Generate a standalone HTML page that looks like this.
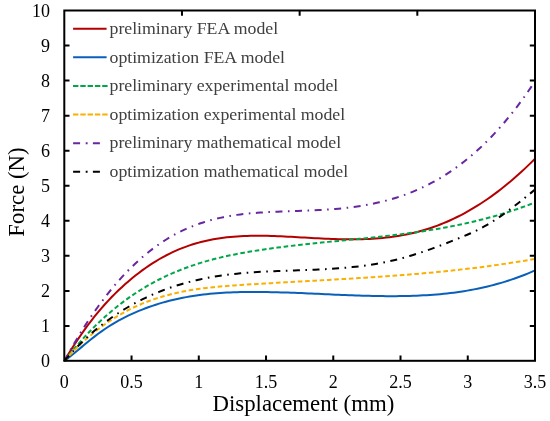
<!DOCTYPE html>
<html><head><meta charset="utf-8"><style>
html,body{margin:0;padding:0;background:#fff;}
svg{display:block;}
</style></head><body>
<svg width="550" height="421" viewBox="0 0 550 421" font-family='"Liberation Serif","Times New Roman",serif' font-size="18" fill="#000">
<rect width="550" height="421" fill="#fff"/>
<path d="M64.30,361.00 L67.69,355.34 L71.07,349.86 L74.46,344.54 L77.85,339.40 L81.23,334.44 L84.62,329.63 L88.00,325.00 L91.39,320.53 L94.78,316.23 L98.16,312.09 L101.55,308.10 L104.94,304.27 L108.32,300.58 L111.71,297.03 L115.09,293.61 L118.48,290.32 L121.87,287.15 L125.25,284.09 L128.64,281.14 L132.03,278.30 L135.41,275.56 L138.80,272.92 L142.19,270.39 L145.57,267.96 L148.96,265.63 L152.34,263.41 L155.73,261.28 L159.12,259.26 L162.50,257.34 L165.89,255.51 L169.28,253.79 L172.66,252.16 L176.05,250.62 L179.44,249.18 L182.82,247.83 L186.21,246.57 L189.59,245.39 L192.98,244.30 L196.37,243.28 L199.75,242.34 L203.14,241.48 L206.53,240.69 L209.91,239.97 L213.30,239.31 L216.68,238.72 L220.07,238.20 L223.46,237.73 L226.84,237.32 L230.23,236.96 L233.62,236.65 L237.00,236.40 L240.39,236.19 L243.78,236.02 L247.16,235.89 L250.55,235.81 L253.93,235.76 L257.32,235.74 L260.71,235.76 L264.09,235.80 L267.48,235.87 L270.87,235.96 L274.25,236.07 L277.64,236.20 L281.03,236.35 L284.41,236.51 L287.80,236.68 L291.18,236.85 L294.57,237.04 L297.96,237.23 L301.34,237.42 L304.73,237.61 L308.12,237.80 L311.50,237.99 L314.89,238.17 L318.27,238.34 L321.66,238.51 L325.05,238.67 L328.43,238.81 L331.82,238.94 L335.21,239.06 L338.59,239.15 L341.98,239.23 L345.37,239.29 L348.75,239.32 L352.14,239.32 L355.52,239.30 L358.91,239.25 L362.30,239.17 L365.68,239.06 L369.07,238.91 L372.46,238.73 L375.84,238.50 L379.23,238.24 L382.62,237.94 L386.00,237.59 L389.39,237.19 L392.77,236.75 L396.16,236.26 L399.55,235.71 L402.93,235.12 L406.32,234.47 L409.71,233.76 L413.09,232.99 L416.48,232.16 L419.86,231.27 L423.25,230.32 L426.64,229.30 L430.02,228.21 L433.41,227.05 L436.80,225.83 L440.18,224.53 L443.57,223.17 L446.96,221.74 L450.34,220.24 L453.73,218.66 L457.11,217.02 L460.50,215.31 L463.89,213.52 L467.27,211.66 L470.66,209.73 L474.05,207.73 L477.43,205.65 L480.82,203.50 L484.21,201.27 L487.59,198.97 L490.98,196.60 L494.36,194.15 L497.75,191.62 L501.14,189.02 L504.52,186.34 L507.91,183.58 L511.30,180.75 L514.68,177.84 L518.07,174.85 L521.45,171.78 L524.84,168.63 L528.23,165.40 L531.61,162.09 L535.00,158.70" fill="none" stroke="#B40000" stroke-width="2" stroke-linejoin="round"/>
<path d="M64.30,361.00 L67.69,358.41 L71.07,355.73 L74.46,352.98 L77.85,350.18 L81.23,347.36 L84.62,344.54 L88.00,341.75 L91.39,339.01 L94.78,336.34 L98.16,333.78 L101.55,331.32 L104.94,328.98 L108.32,326.75 L111.71,324.63 L115.09,322.61 L118.48,320.69 L121.87,318.86 L125.25,317.12 L128.64,315.46 L132.03,313.88 L135.41,312.37 L138.80,310.93 L142.19,309.56 L145.57,308.25 L148.96,307.00 L152.34,305.82 L155.73,304.70 L159.12,303.64 L162.50,302.64 L165.89,301.69 L169.28,300.80 L172.66,299.96 L176.05,299.17 L179.44,298.43 L182.82,297.75 L186.21,297.11 L189.59,296.51 L192.98,295.96 L196.37,295.45 L199.75,294.99 L203.14,294.56 L206.53,294.17 L209.91,293.82 L213.30,293.51 L216.68,293.23 L220.07,292.98 L223.46,292.76 L226.84,292.57 L230.23,292.41 L233.62,292.28 L237.00,292.17 L240.39,292.08 L243.78,292.02 L247.16,291.98 L250.55,291.95 L253.93,291.95 L257.32,291.95 L260.71,291.98 L264.09,292.02 L267.48,292.07 L270.87,292.13 L274.25,292.20 L277.64,292.29 L281.03,292.38 L284.41,292.48 L287.80,292.60 L291.18,292.72 L294.57,292.84 L297.96,292.98 L301.34,293.11 L304.73,293.26 L308.12,293.40 L311.50,293.55 L314.89,293.70 L318.27,293.86 L321.66,294.01 L325.05,294.17 L328.43,294.32 L331.82,294.48 L335.21,294.63 L338.59,294.77 L341.98,294.92 L345.37,295.06 L348.75,295.20 L352.14,295.32 L355.52,295.45 L358.91,295.56 L362.30,295.67 L365.68,295.77 L369.07,295.86 L372.46,295.94 L375.84,296.01 L379.23,296.07 L382.62,296.11 L386.00,296.14 L389.39,296.16 L392.77,296.16 L396.16,296.15 L399.55,296.12 L402.93,296.07 L406.32,296.01 L409.71,295.92 L413.09,295.82 L416.48,295.69 L419.86,295.55 L423.25,295.37 L426.64,295.18 L430.02,294.96 L433.41,294.72 L436.80,294.44 L440.18,294.14 L443.57,293.81 L446.96,293.45 L450.34,293.06 L453.73,292.64 L457.11,292.19 L460.50,291.70 L463.89,291.18 L467.27,290.62 L470.66,290.02 L474.05,289.39 L477.43,288.72 L480.82,288.00 L484.21,287.25 L487.59,286.46 L490.98,285.62 L494.36,284.74 L497.75,283.82 L501.14,282.85 L504.52,281.84 L507.91,280.77 L511.30,279.66 L514.68,278.50 L518.07,277.29 L521.45,276.03 L524.84,274.71 L528.23,273.34 L531.61,271.92 L535.00,270.45" fill="none" stroke="#0A60B8" stroke-width="2" stroke-linejoin="round"/>
<path d="M64.30,360.99 L67.69,356.68 L71.07,352.49 L74.46,348.42 L77.85,344.46 L81.23,340.63 L84.62,336.90 L88.00,333.29 L91.39,329.79 L94.78,326.40 L98.16,323.11 L101.55,319.93 L104.94,316.84 L108.32,313.86 L111.71,310.97 L115.09,308.18 L118.48,305.48 L121.87,302.87 L125.25,300.35 L128.64,297.91 L132.03,295.56 L135.41,293.29 L138.80,291.10 L142.19,288.98 L145.57,286.95 L148.96,284.98 L152.34,283.09 L155.73,281.27 L159.12,279.51 L162.50,277.82 L165.89,276.20 L169.28,274.64 L172.66,273.14 L176.05,271.70 L179.44,270.32 L182.82,269.00 L186.21,267.73 L189.59,266.51 L192.98,265.34 L196.37,264.22 L199.75,263.15 L203.14,262.12 L206.53,261.14 L209.91,260.20 L213.30,259.30 L216.68,258.44 L220.07,257.61 L223.46,256.82 L226.84,256.07 L230.23,255.34 L233.62,254.65 L237.00,253.98 L240.39,253.34 L243.78,252.73 L247.16,252.13 L250.55,251.56 L253.93,251.01 L257.32,250.47 L260.71,249.95 L264.09,249.45 L267.48,248.96 L270.87,248.48 L274.25,248.02 L277.64,247.57 L281.03,247.13 L284.41,246.70 L287.80,246.28 L291.18,245.88 L294.57,245.48 L297.96,245.09 L301.34,244.71 L304.73,244.33 L308.12,243.97 L311.50,243.61 L314.89,243.25 L318.27,242.90 L321.66,242.56 L325.05,242.22 L328.43,241.88 L331.82,241.54 L335.21,241.21 L338.59,240.88 L341.98,240.54 L345.37,240.21 L348.75,239.88 L352.14,239.55 L355.52,239.21 L358.91,238.87 L362.30,238.53 L365.68,238.19 L369.07,237.84 L372.46,237.48 L375.84,237.12 L379.23,236.76 L382.62,236.38 L386.00,236.00 L389.39,235.62 L392.77,235.22 L396.16,234.81 L399.55,234.40 L402.93,233.97 L406.32,233.53 L409.71,233.08 L413.09,232.62 L416.48,232.15 L419.86,231.66 L423.25,231.15 L426.64,230.64 L430.02,230.10 L433.41,229.55 L436.80,228.99 L440.18,228.40 L443.57,227.80 L446.96,227.18 L450.34,226.54 L453.73,225.88 L457.11,225.20 L460.50,224.50 L463.89,223.78 L467.27,223.03 L470.66,222.27 L474.05,221.47 L477.43,220.66 L480.82,219.82 L484.21,218.95 L487.59,218.06 L490.98,217.14 L494.36,216.19 L497.75,215.22 L501.14,214.22 L504.52,213.18 L507.91,212.12 L511.30,211.03 L514.68,209.91 L518.07,208.75 L521.45,207.56 L524.84,206.34 L528.23,205.09 L531.61,203.80 L535.00,202.48" fill="none" stroke="#00A648" stroke-width="2" stroke-dasharray="4.6 2.7" stroke-linejoin="round"/>
<path d="M64.30,360.99 L67.69,357.26 L71.07,353.66 L74.46,350.19 L77.85,346.84 L81.23,343.61 L84.62,340.51 L88.00,337.52 L91.39,334.64 L94.78,331.88 L98.16,329.23 L101.55,326.68 L104.94,324.25 L108.32,321.91 L111.71,319.67 L115.09,317.54 L118.48,315.49 L121.87,313.54 L125.25,311.69 L128.64,309.92 L132.03,308.23 L135.41,306.63 L138.80,305.11 L142.19,303.67 L145.57,302.30 L148.96,301.01 L152.34,299.79 L155.73,298.63 L159.12,297.55 L162.50,296.53 L165.89,295.56 L169.28,294.66 L172.66,293.82 L176.05,293.03 L179.44,292.29 L182.82,291.60 L186.21,290.95 L189.59,290.35 L192.98,289.79 L196.37,289.28 L199.75,288.80 L203.14,288.35 L206.53,287.93 L209.91,287.55 L213.30,287.19 L216.68,286.86 L220.07,286.55 L223.46,286.26 L226.84,285.99 L230.23,285.73 L233.62,285.49 L237.00,285.25 L240.39,285.02 L243.78,284.80 L247.16,284.59 L250.55,284.37 L253.93,284.16 L257.32,283.95 L260.71,283.74 L264.09,283.54 L267.48,283.34 L270.87,283.14 L274.25,282.94 L277.64,282.75 L281.03,282.55 L284.41,282.36 L287.80,282.17 L291.18,281.98 L294.57,281.79 L297.96,281.60 L301.34,281.41 L304.73,281.22 L308.12,281.03 L311.50,280.84 L314.89,280.65 L318.27,280.46 L321.66,280.27 L325.05,280.08 L328.43,279.89 L331.82,279.69 L335.21,279.50 L338.59,279.30 L341.98,279.10 L345.37,278.90 L348.75,278.70 L352.14,278.49 L355.52,278.29 L358.91,278.08 L362.30,277.86 L365.68,277.65 L369.07,277.43 L372.46,277.20 L375.84,276.98 L379.23,276.75 L382.62,276.51 L386.00,276.27 L389.39,276.03 L392.77,275.78 L396.16,275.53 L399.55,275.28 L402.93,275.01 L406.32,274.75 L409.71,274.47 L413.09,274.19 L416.48,273.91 L419.86,273.62 L423.25,273.32 L426.64,273.02 L430.02,272.71 L433.41,272.40 L436.80,272.07 L440.18,271.74 L443.57,271.40 L446.96,271.06 L450.34,270.71 L453.73,270.35 L457.11,269.98 L460.50,269.60 L463.89,269.22 L467.27,268.82 L470.66,268.42 L474.05,268.01 L477.43,267.59 L480.82,267.16 L484.21,266.72 L487.59,266.27 L490.98,265.81 L494.36,265.34 L497.75,264.87 L501.14,264.38 L504.52,263.88 L507.91,263.37 L511.30,262.84 L514.68,262.31 L518.07,261.77 L521.45,261.21 L524.84,260.64 L528.23,260.06 L531.61,259.47 L535.00,258.87" fill="none" stroke="#FAB000" stroke-width="2" stroke-dasharray="4.6 2.7" stroke-linejoin="round"/>
<path d="M64.30,361.00 L67.69,354.83 L71.07,348.82 L74.46,342.98 L77.85,337.29 L81.23,331.77 L84.62,326.40 L88.00,321.18 L91.39,316.13 L94.78,311.22 L98.16,306.46 L101.55,301.85 L104.94,297.39 L108.32,293.07 L111.71,288.89 L115.09,284.85 L118.48,280.95 L121.87,277.18 L125.25,273.55 L128.64,270.05 L132.03,266.68 L135.41,263.44 L138.80,260.33 L142.19,257.34 L145.57,254.47 L148.96,251.73 L152.34,249.10 L155.73,246.59 L159.12,244.19 L162.50,241.91 L165.89,239.74 L169.28,237.67 L172.66,235.72 L176.05,233.86 L179.44,232.11 L182.82,230.46 L186.21,228.90 L189.59,227.44 L192.98,226.06 L196.37,224.77 L199.75,223.56 L203.14,222.43 L206.53,221.38 L209.91,220.40 L213.30,219.50 L216.68,218.66 L220.07,217.88 L223.46,217.17 L226.84,216.52 L230.23,215.92 L233.62,215.38 L237.00,214.88 L240.39,214.43 L243.78,214.03 L247.16,213.66 L250.55,213.33 L253.93,213.04 L257.32,212.78 L260.71,212.55 L264.09,212.34 L267.48,212.15 L270.87,211.99 L274.25,211.84 L277.64,211.70 L281.03,211.57 L284.41,211.45 L287.80,211.34 L291.18,211.22 L294.57,211.11 L297.96,210.99 L301.34,210.87 L304.73,210.74 L308.12,210.60 L311.50,210.45 L314.89,210.29 L318.27,210.12 L321.66,209.92 L325.05,209.71 L328.43,209.49 L331.82,209.23 L335.21,208.96 L338.59,208.66 L341.98,208.33 L345.37,207.97 L348.75,207.58 L352.14,207.15 L355.52,206.69 L358.91,206.20 L362.30,205.66 L365.68,205.08 L369.07,204.46 L372.46,203.80 L375.84,203.09 L379.23,202.32 L382.62,201.51 L386.00,200.65 L389.39,199.73 L392.77,198.75 L396.16,197.72 L399.55,196.62 L402.93,195.46 L406.32,194.24 L409.71,192.95 L413.09,191.60 L416.48,190.17 L419.86,188.68 L423.25,187.10 L426.64,185.46 L430.02,183.73 L433.41,181.93 L436.80,180.04 L440.18,178.07 L443.57,176.02 L446.96,173.87 L450.34,171.64 L453.73,169.32 L457.11,166.90 L460.50,164.39 L463.89,161.79 L467.27,159.08 L470.66,156.27 L474.05,153.36 L477.43,150.35 L480.82,147.23 L484.21,144.00 L487.59,140.66 L490.98,137.21 L494.36,133.64 L497.75,129.96 L501.14,126.16 L504.52,122.24 L507.91,118.20 L511.30,114.04 L514.68,109.75 L518.07,105.33 L521.45,100.78 L524.84,96.10 L528.23,91.29 L531.61,86.34 L535.00,81.26" fill="none" stroke="#6826A0" stroke-width="2" stroke-dasharray="7 5.5 1.6 5.5" stroke-linejoin="round"/>
<path d="M64.30,361.00 L67.69,357.11 L71.07,353.36 L74.46,349.74 L77.85,346.24 L81.23,342.87 L84.62,339.62 L88.00,336.49 L91.39,333.47 L94.78,330.56 L98.16,327.76 L101.55,325.06 L104.94,322.46 L108.32,319.95 L111.71,317.54 L115.09,315.22 L118.48,312.98 L121.87,310.83 L125.25,308.76 L128.64,306.76 L132.03,304.83 L135.41,302.98 L138.80,301.19 L142.19,299.47 L145.57,297.82 L148.96,296.23 L152.34,294.70 L155.73,293.24 L159.12,291.85 L162.50,290.51 L165.89,289.23 L169.28,288.01 L172.66,286.85 L176.05,285.74 L179.44,284.69 L182.82,283.69 L186.21,282.75 L189.59,281.85 L192.98,281.00 L196.37,280.20 L199.75,279.45 L203.14,278.73 L206.53,278.07 L209.91,277.44 L213.30,276.85 L216.68,276.30 L220.07,275.78 L223.46,275.30 L226.84,274.85 L230.23,274.44 L233.62,274.05 L237.00,273.69 L240.39,273.36 L243.78,273.05 L247.16,272.77 L250.55,272.51 L253.93,272.27 L257.32,272.05 L260.71,271.84 L264.09,271.65 L267.48,271.48 L270.87,271.32 L274.25,271.16 L277.64,271.02 L281.03,270.89 L284.41,270.76 L287.80,270.64 L291.18,270.52 L294.57,270.40 L297.96,270.28 L301.34,270.16 L304.73,270.04 L308.12,269.91 L311.50,269.78 L314.89,269.64 L318.27,269.48 L321.66,269.32 L325.05,269.15 L328.43,268.96 L331.82,268.75 L335.21,268.53 L338.59,268.29 L341.98,268.03 L345.37,267.75 L348.75,267.44 L352.14,267.10 L355.52,266.74 L358.91,266.35 L362.30,265.93 L365.68,265.48 L369.07,265.00 L372.46,264.48 L375.84,263.92 L379.23,263.32 L382.62,262.69 L386.00,262.01 L389.39,261.29 L392.77,260.52 L396.16,259.71 L399.55,258.85 L402.93,257.95 L406.32,257.00 L409.71,256.01 L413.09,254.98 L416.48,253.92 L419.86,252.82 L423.25,251.69 L426.64,250.52 L430.02,249.33 L433.41,248.11 L436.80,246.86 L440.18,245.60 L443.57,244.31 L446.96,243.00 L450.34,241.67 L453.73,240.33 L457.11,238.97 L460.50,237.59 L463.89,236.19 L467.27,234.74 L470.66,233.24 L474.05,231.67 L477.43,230.03 L480.82,228.30 L484.21,226.48 L487.59,224.55 L490.98,222.52 L494.36,220.38 L497.75,218.16 L501.14,215.85 L504.52,213.47 L507.91,211.01 L511.30,208.48 L514.68,205.90 L518.07,203.27 L521.45,200.59 L524.84,197.88 L528.23,195.13 L531.61,192.36 L535.00,189.57" fill="none" stroke="#000000" stroke-width="2" stroke-dasharray="7 5.5 1.6 5.5" stroke-linejoin="round"/>
<rect x="64.3" y="10.5" width="470.70" height="350.30" fill="none" stroke="#000" stroke-width="2"/>
<path d="M131.54,360.8 v-5.2 M198.79,360.8 v-5.2 M266.03,360.8 v-5.2 M333.27,360.8 v-5.2 M400.51,360.8 v-5.2 M467.76,360.8 v-5.2 M181.97,10.5 v5.2 M299.65,10.5 v5.2 M417.32,10.5 v5.2 M64.3,325.95 h5.2 M535.0,325.95 h-5.2 M64.3,290.90 h5.2 M535.0,290.90 h-5.2 M64.3,255.85 h5.2 M535.0,255.85 h-5.2 M64.3,220.80 h5.2 M535.0,220.80 h-5.2 M64.3,185.75 h5.2 M535.0,185.75 h-5.2 M64.3,150.70 h5.2 M535.0,150.70 h-5.2 M64.3,115.65 h5.2 M535.0,115.65 h-5.2 M64.3,80.60 h5.2 M535.0,80.60 h-5.2 M64.3,45.55 h5.2 M535.0,45.55 h-5.2" stroke="#000" stroke-width="2" fill="none"/>
<text x="50" y="367.30" text-anchor="end">0</text>
<text x="50" y="332.25" text-anchor="end">1</text>
<text x="50" y="297.20" text-anchor="end">2</text>
<text x="50" y="262.15" text-anchor="end">3</text>
<text x="50" y="227.10" text-anchor="end">4</text>
<text x="50" y="192.05" text-anchor="end">5</text>
<text x="50" y="157.00" text-anchor="end">6</text>
<text x="50" y="121.95" text-anchor="end">7</text>
<text x="50" y="86.90" text-anchor="end">8</text>
<text x="50" y="51.85" text-anchor="end">9</text>
<text x="50" y="16.80" text-anchor="end">10</text>
<text x="64.30" y="388.1" text-anchor="middle">0</text>
<text x="131.54" y="388.1" text-anchor="middle">0.5</text>
<text x="198.79" y="388.1" text-anchor="middle">1</text>
<text x="266.03" y="388.1" text-anchor="middle">1.5</text>
<text x="333.27" y="388.1" text-anchor="middle">2</text>
<text x="400.51" y="388.1" text-anchor="middle">2.5</text>
<text x="467.76" y="388.1" text-anchor="middle">3</text>
<text x="535.00" y="388.1" text-anchor="middle">3.5</text>
<text x="303.4" y="410.7" text-anchor="middle" font-size="22.8">Displacement (mm)</text>
<text transform="translate(24.4,192) rotate(-90)" x="0" y="0" text-anchor="middle" font-size="22.8">Force (N)</text>
<path d="M73.1,28.70 H106.6" stroke="#B40000" stroke-width="2"/>
<text x="109.5" y="34.40" fill="#404040" font-size="17.75">preliminary FEA model</text>
<path d="M73.1,57.32 H106.6" stroke="#0A60B8" stroke-width="2"/>
<text x="109.5" y="62.82" fill="#404040" font-size="17.75">optimization FEA model</text>
<path d="M73.00,85.94 h5.4 M80.30,85.94 h5.4 M87.60,85.94 h5.4 M94.90,85.94 h5.4 M102.20,85.94 h5.4" stroke="#00A648" stroke-width="2"/>
<text x="109.5" y="91.24" fill="#404040" font-size="17.75">preliminary experimental model</text>
<path d="M73.00,114.56 h5.4 M80.30,114.56 h5.4 M87.60,114.56 h5.4 M94.90,114.56 h5.4 M102.20,114.56 h5.4" stroke="#FAB000" stroke-width="2"/>
<text x="109.5" y="119.66" fill="#404040" font-size="17.75">optimization experimental model</text>
<path d="M73.1,143.18 H80.1 M85.7,143.18 H87.6 M92.9,143.18 H99.9" stroke="#6826A0" stroke-width="2"/>
<text x="109.5" y="148.08" fill="#404040" font-size="17.75">preliminary mathematical model</text>
<path d="M73.1,171.80 H80.1 M85.7,171.80 H87.6 M92.9,171.80 H99.9" stroke="#000000" stroke-width="2"/>
<text x="109.5" y="176.50" fill="#404040" font-size="17.75">optimization mathematical model</text>
</svg>
</body></html>
